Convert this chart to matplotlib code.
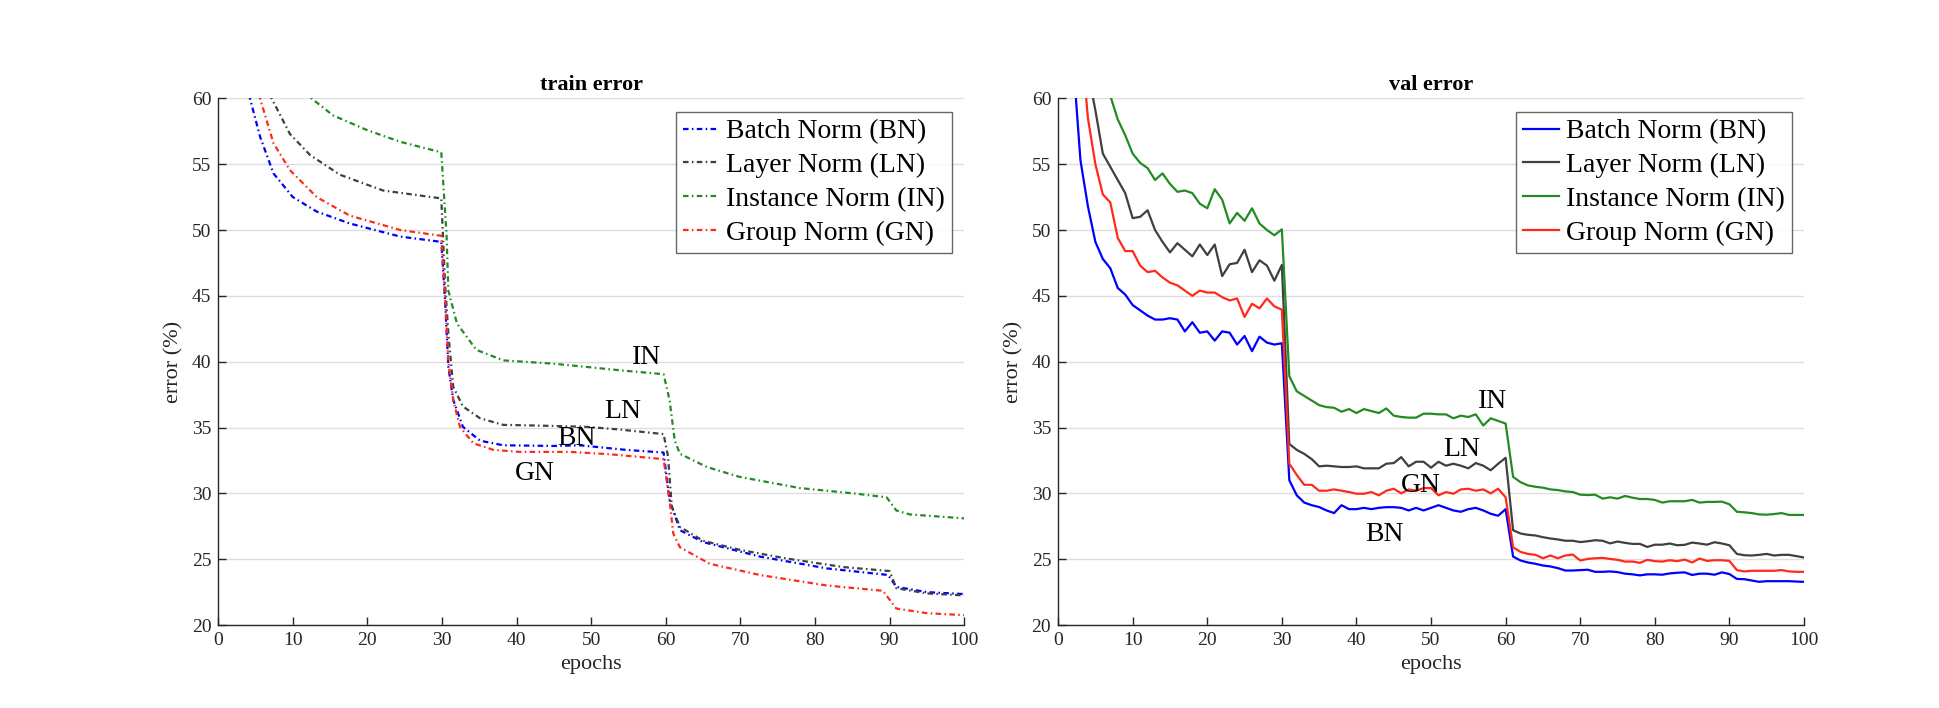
import matplotlib
matplotlib.use('Agg')
import matplotlib.pyplot as plt
import numpy as np

plt.rcParams['font.family'] = ['Liberation Serif', 'DejaVu Serif']
plt.rcParams['mathtext.fontset'] = 'stix'

# ---- train error (smooth curves) ----
tr_bn_x = [2, 4.25, 5.6, 7.4, 10, 13.2, 17.6, 24.4, 29.9, 30.4, 30.85, 31.5, 32.8, 35.1, 38.2, 45,
           48.5, 54.7, 59.7, 60.5, 61.9, 65, 72.6, 81.6, 89.8, 90.9, 95, 100]
tr_bn_y = [68, 60, 57.1, 54.3, 52.5, 51.4, 50.5, 49.5, 49.1, 44.7, 39.6, 37.1, 35.05, 34.0, 33.65, 33.6,
           33.65, 33.3, 33.1, 29.5, 27.2, 26.3, 25.2, 24.3, 23.8, 22.9, 22.5, 22.35]

tr_ln_x = [3, 7.15, 9.6, 12.3, 16.3, 22.1, 29.9, 30.4, 30.85, 31.5, 32.8, 35.1, 38.2, 42.7, 49.4, 53.8,
           59.7, 60.3, 60.8, 61.9, 65, 70, 76.2, 83.8, 90, 90.9, 95, 100]
tr_ln_y = [72, 60, 57.3, 55.7, 54.2, 53.0, 52.4, 46, 42.1, 38.1, 36.6, 35.7, 35.2, 35.15, 35.05, 34.85,
           34.5, 32.8, 29.0, 27.45, 26.4, 25.7, 25.05, 24.4, 24.1, 22.8, 22.4, 22.25]

tr_in_x = [6, 12.5, 15.4, 19.9, 24.4, 29.9, 30.6, 30.85, 32, 34.6, 38.2, 44.9, 49.4, 53.8, 59.7, 60.5,
           61.2, 61.9, 65.5, 69.9, 78, 85.1, 89.6, 90.9, 92.7, 100]
tr_in_y = [70, 60, 58.7, 57.6, 56.7, 55.9, 49.7, 45.4, 42.9, 40.9, 40.1, 39.85, 39.6, 39.35, 39.05, 37.1,
           34.0, 33.0, 32.0, 31.25, 30.4, 30.0, 29.7, 28.7, 28.4, 28.1]

tr_gn_x = [2, 5.6, 7.4, 9.6, 13.2, 17.6, 24.4, 29.9, 30.4, 30.85, 31.5, 32.4, 34.2, 36.9, 40.4, 47.1,
           52.5, 59.7, 60.5, 61, 61.9, 65.9, 72.6, 81.6, 89.1, 90.9, 95, 100]
tr_gn_y = [72, 60, 56.6, 54.55, 52.5, 51.1, 50.0, 49.56, 45, 40, 37.1, 35.05, 33.8, 33.3, 33.15, 33.15,
           32.97, 32.6, 29.5, 26.95, 25.9, 24.65, 23.8, 23.0, 22.6, 21.25, 20.9, 20.75]

# ---- val error, one value per epoch 1..100 ----
epochs = np.arange(1, 101)
val_bn = [72, 63, 55.3, 51.8, 49.1, 47.8, 47.1, 45.6, 45.1, 44.3,
          43.9, 43.5, 43.2, 43.2, 43.3, 43.2, 42.3, 43.0, 42.2, 42.3,
          41.6, 42.3, 42.2, 41.3, 41.95, 40.8, 41.9, 41.45, 41.3, 41.4,
          31.0, 29.85, 29.3, 29.1, 28.96, 28.7, 28.5, 29.1, 28.8, 28.8,
          28.9, 28.8, 28.9, 28.95, 28.95, 28.9, 28.7, 28.9, 28.7, 28.9,
          29.1, 28.9, 28.7, 28.6, 28.8, 28.9, 28.7, 28.45, 28.3, 28.8,
          25.2, 24.9, 24.75, 24.65, 24.52, 24.45, 24.32, 24.14, 24.14, 24.17,
          24.2, 24.04, 24.04, 24.07, 24.02, 23.9, 23.85, 23.77, 23.85, 23.85,
          23.82, 23.92, 23.97, 24.0, 23.8, 23.9, 23.9, 23.82, 24.0, 23.87,
          23.5, 23.48, 23.38, 23.28, 23.33, 23.33, 23.33, 23.33, 23.3, 23.28]
val_ln = [78, 71, 66, 62, 59.1, 55.8, 54.8, 53.8, 52.8, 50.9,
          51.0, 51.5, 50.0, 49.1, 48.3, 49.0, 48.5, 48.0, 48.9, 48.1,
          48.9, 46.5, 47.4, 47.5, 48.5, 46.8, 47.7, 47.3, 46.15, 47.35,
          33.75, 33.3, 33.0, 32.6, 32.05, 32.1, 32.05, 32.0, 32.0, 32.05,
          31.9, 31.9, 31.9, 32.25, 32.3, 32.75, 32.05, 32.4, 32.4, 31.95,
          32.4, 32.1, 32.25, 32.1, 31.9, 32.3, 32.1, 31.75, 32.25, 32.7,
          27.2, 26.95, 26.85, 26.8, 26.67, 26.57, 26.5, 26.4, 26.4, 26.3,
          26.36, 26.44, 26.4, 26.2, 26.34, 26.24, 26.16, 26.16, 25.93, 26.1,
          26.1, 26.19, 26.06, 26.09, 26.26, 26.19, 26.1, 26.29, 26.19, 26.06,
          25.4, 25.3, 25.28, 25.33, 25.4, 25.28, 25.33, 25.33, 25.23, 25.13]
val_in = [85, 80, 75, 70, 66, 63, 60.2, 58.4, 57.2, 55.8,
          55.1, 54.7, 53.8, 54.3, 53.5, 52.9, 53.0, 52.8, 52.0, 51.65,
          53.1, 52.3, 50.5, 51.3, 50.7, 51.65, 50.5, 50.0, 49.6, 50.05,
          38.9, 37.75, 37.4, 37.05, 36.7, 36.55, 36.5, 36.2, 36.4, 36.1,
          36.4, 36.25, 36.1, 36.45, 35.9, 35.8, 35.75, 35.75, 36.05, 36.05,
          36.0, 36.0, 35.7, 35.9, 35.8, 36.0, 35.15, 35.7, 35.5, 35.3,
          31.25, 30.85, 30.6, 30.5, 30.43, 30.3, 30.25, 30.15, 30.1, 29.9,
          29.87, 29.9, 29.6, 29.7, 29.6, 29.8, 29.67, 29.57, 29.57, 29.5,
          29.3, 29.4, 29.4, 29.4, 29.5, 29.3, 29.35, 29.35, 29.37, 29.17,
          28.6, 28.56, 28.5, 28.4, 28.38, 28.43, 28.5, 28.36, 28.36, 28.36]
val_gn = [80, 72, 65, 58.5, 55.0, 52.7, 52.1, 49.4, 48.4, 48.4,
          47.3, 46.8, 46.9, 46.4, 46.0, 45.8, 45.4, 45.0, 45.4, 45.25,
          45.25, 44.9, 44.65, 44.8, 43.4, 44.4, 44.05, 44.8, 44.2, 43.95,
          32.25, 31.4, 30.65, 30.65, 30.2, 30.2, 30.3, 30.2, 30.1, 29.97,
          29.97, 30.1, 29.85, 30.2, 30.35, 30.0, 30.3, 30.2, 30.4, 30.4,
          29.85, 30.1, 29.97, 30.3, 30.35, 30.2, 30.3, 30.0, 30.35, 29.7,
          25.9, 25.55, 25.4, 25.33, 25.07, 25.28, 25.07, 25.28, 25.35, 24.9,
          25.02, 25.07, 25.1, 25.02, 24.95, 24.82, 24.82, 24.72, 24.95, 24.85,
          24.82, 24.92, 24.85, 24.97, 24.75, 25.05, 24.87, 24.92, 24.92, 24.87,
          24.17, 24.07, 24.12, 24.12, 24.12, 24.12, 24.17, 24.07, 24.04, 24.04]

labels = ['Batch Norm (BN)', 'Layer Norm (LN)', 'Instance Norm (IN)', 'Group Norm (GN)']
colors = ['#0000FF', '#404040', '#228B22', '#FF2A1A']
short = ['BN', 'LN', 'IN', 'GN']
tr_text_pos = {'IN': (57.4, 40.35), 'LN': (54.2, 36.25), 'BN': (48.05, 34.2), 'GN': (42.45, 31.5)}
val_text_pos = {'IN': (58.2, 36.95), 'LN': (54.1, 33.3), 'GN': (48.6, 30.6), 'BN': (43.7, 26.9)}

dashdot = (0, (2.5, 1.5, 0.7, 1.5))
axcol = '#262626'


def style_axes(ax, title):
    ax.set_xlim(0, 100)
    ax.set_ylim(20, 60)
    ax.set_xticks(range(0, 101, 10))
    ax.set_yticks(range(20, 61, 5))
    ax.grid(True, axis='y', color='#dedede', linewidth=1.0)
    ax.set_axisbelow(True)
    for s in ['top', 'right']:
        ax.spines[s].set_visible(False)
    for s in ['left', 'bottom']:
        ax.spines[s].set_color(axcol)
        ax.spines[s].set_linewidth(1.0)
    ax.tick_params(direction='in', length=6, width=1.0, color=axcol,
                   labelcolor=axcol, labelsize=14, pad=5)
    ax.set_title(title, fontsize=16, fontweight='bold', pad=6)
    ax.set_xlabel('epochs', fontsize=16, color=axcol, labelpad=4)
    ax.set_ylabel('error (%)', fontsize=16, color=axcol, labelpad=6)


fig = plt.figure(figsize=(19.4, 7.08), dpi=100)
ax1 = fig.add_axes([0.1125, 0.1172, 0.3845, 0.7439])
ax2 = fig.add_axes([0.5454, 0.1172, 0.3845, 0.7439])

tr_x = [tr_bn_x, tr_ln_x, tr_in_x, tr_gn_x]
tr_y = [tr_bn_y, tr_ln_y, tr_in_y, tr_gn_y]
for x, y, c, lab in zip(tr_x, tr_y, colors, labels):
    ax1.plot(x, y, color=c, linestyle=dashdot, linewidth=1.6, label=lab)
style_axes(ax1, 'train error')

for y, c, lab in zip([val_bn, val_ln, val_in, val_gn], colors, labels):
    ax2.plot(epochs, y, color=c, linewidth=1.6, label=lab)
style_axes(ax2, 'val error')

for ax, pos in [(ax1, tr_text_pos), (ax2, val_text_pos)]:
    for k in short:
        ax.text(pos[k][0], pos[k][1], k, fontsize=20, ha='center', va='center')
    leg = ax.legend(loc='upper right', bbox_to_anchor=(0.9836, 0.974), fontsize=20,
                    frameon=True, fancybox=False, handlelength=1.3, handletextpad=0.25,
                    labelspacing=0.3, borderpad=0.25, borderaxespad=0.0)
    leg.get_frame().set_edgecolor('#404040')
    leg.get_frame().set_linewidth(1.0)

fig.savefig('out.png', dpi=100)
